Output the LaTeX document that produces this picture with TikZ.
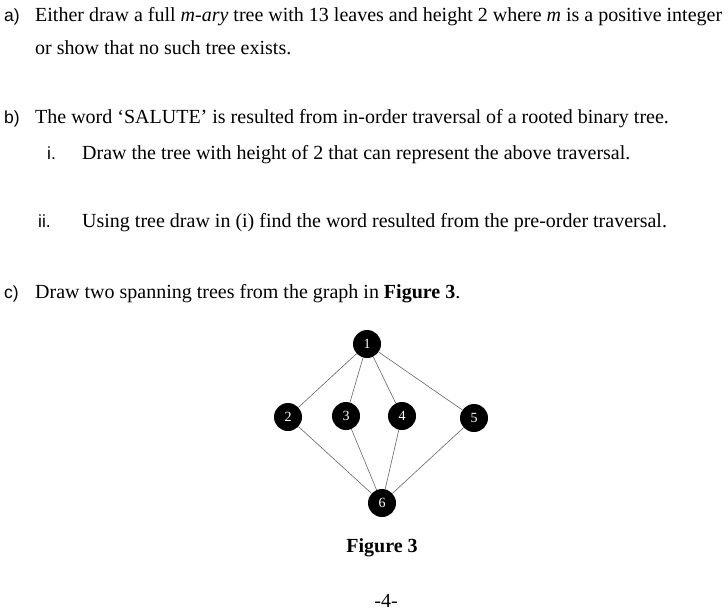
\documentclass[tikz,border=0pt]{standalone}
\usepackage{fontspec}
\setmainfont{Liberation Serif}
\newfontfamily\lab{Liberation Sans}
\begin{document}
\begin{tikzpicture}[x=1pt,y=-1pt,
  txt/.style={anchor=base west,inner sep=0pt,font=\fontsize{20}{24}\selectfont},
  lbl/.style={anchor=base west,inner sep=0pt,font=\lab\fontsize{17.5}{21}\selectfont},
  vtx/.style={circle,fill=black,text=white,minimum size=28pt,inner sep=0pt,font=\fontsize{14}{16}\selectfont},
  edge/.style={draw=gray!80!black,line width=0.6pt}]
\useasboundingbox (0,0) rectangle (728,611);
\node[lbl] (la) at (4,21) {a)};
\node[txt] (ta) at (35,21) {Either draw a full \textit{m-ary} tree with 13 leaves and height 2 where \textit{m} is a positive integer};
\node[txt] (ta2) at (35,54) {or show that no such tree exists.};
\node[lbl] (lb) at (4,123) {b)};
\node[txt] (tb) at (35,123) {The word ‘SALUTE’ is resulted from in-order traversal of a rooted binary tree.};
\node[lbl] (li) at (47,159) {i.};
\node[txt] (ti) at (82,159) {Draw the tree with height of 2 that can represent the above traversal.};
\node[lbl] (lii) at (38,227) {ii.};
\node[txt] (tii) at (82,227) {Using tree draw in (i) find the word resulted from the pre-order traversal.};
\node[lbl] (lc) at (4,298) {c)};
\node[txt] (tc) at (35,298) {Draw two spanning trees from the graph in \textbf{Figure 3}.};
\node[vtx] (n1) at (367,344) {1};
\node[vtx] (n2) at (288,417) {2};
\node[vtx] (n3) at (346,416) {3};
\node[vtx] (n4) at (402,416) {4};
\node[vtx] (n5) at (474,418) {5};
\node[vtx] (n6) at (382,503) {6};
\foreach \a/\b in {n1/n2,n1/n3,n1/n4,n1/n5,n2/n6,n3/n6,n4/n6,n5/n6}
  \draw[edge] (\a) -- (\b);
\node[txt,anchor=base] (fig) at (382,552) {\textbf{Figure 3}};
\node[txt,anchor=base] (pg) at (386,607) {-4-};
\end{tikzpicture}
\end{document}
